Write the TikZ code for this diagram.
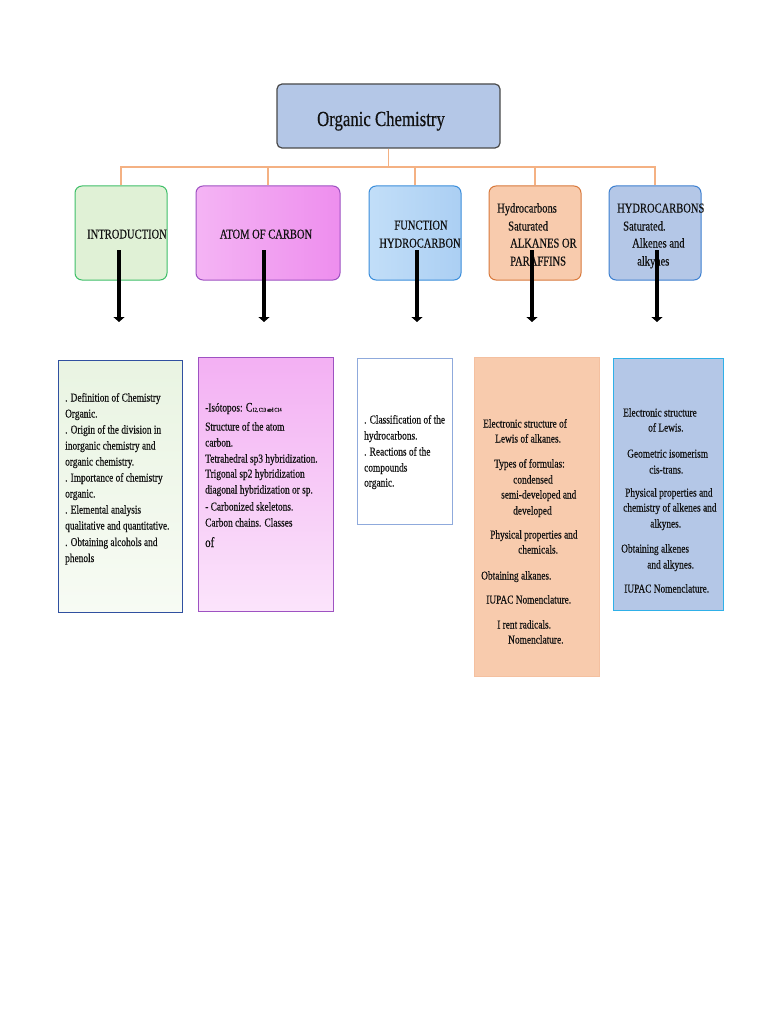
\documentclass[tikz,border=0pt]{standalone}
\usepackage{fontspec}
\newfontfamily\cond[FakeStretch=0.78,FakeBold=0.4]{Liberation Serif}
\usetikzlibrary{arrows.meta}
\definecolor{titlefill}{HTML}{B4C7E7}
\definecolor{titledraw}{HTML}{4A4A4A}
\definecolor{busc}{HTML}{F4B183}
\definecolor{gfill}{HTML}{E0F1D6}
\definecolor{gdraw}{HTML}{3FBF69}
\definecolor{pfillA}{HTML}{F4B4F4}
\definecolor{pfillB}{HTML}{EE8EEE}
\definecolor{pdraw}{HTML}{9E52C2}
\definecolor{bfillA}{HTML}{C2DEF8}
\definecolor{bfillB}{HTML}{ABCFF3}
\definecolor{bdraw}{HTML}{3B8EDB}
\definecolor{ofill}{HTML}{F8CBAD}
\definecolor{odraw}{HTML}{D8793C}
\definecolor{sfill}{HTML}{B4C7E7}
\definecolor{sdraw}{HTML}{3D80D0}
\definecolor{lgA}{HTML}{E9F4E2}
\definecolor{lgB}{HTML}{F7FBF4}
\definecolor{lgdraw}{HTML}{3050A0}
\definecolor{lpA}{HTML}{F3B0F3}
\definecolor{lpB}{HTML}{FBE4FB}
\definecolor{l3draw}{HTML}{8FAADC}
\definecolor{l4draw}{HTML}{F4C0A0}
\definecolor{l5draw}{HTML}{2FB0E8}
\definecolor{txtc}{HTML}{111111}
\tikzset{
  headbox/.style={draw, rounded corners=7pt, line width=1pt, minimum height=94pt, inner sep=0pt},
  lowbox/.style={draw, line width=0.8pt, inner sep=0pt},
  hdtxt/.style={inner sep=0pt, text=txtc, font=\cond\fontsize{13.5}{16}\selectfont},
  lowtxt/.style={inner sep=0pt, anchor=base west, text=txtc, font=\cond\fontsize{12}{14}\selectfont},
  busline/.style={draw=busc, line width=1.2pt},
  downarrow/.style={line width=4pt, black, -{Triangle[length=5pt,width=11pt]}}
}
\begin{document}
\begin{tikzpicture}[x=1pt,y=-1pt]
\path[use as bounding box] (0,0) rectangle (768,1024);
\fill[white] (0,0) rectangle (768,1024);

% title
\node[draw=titledraw, fill=titlefill, rounded corners=5pt, line width=1.2pt,
      minimum width=223pt, minimum height=64pt, inner sep=0pt] (title) at (388.5,116) {};
\node[inner sep=0pt, anchor=base, text=txtc, font=\cond\fontsize{21.5}{24}\selectfont] (titletxt) at (381,126) {Organic Chemistry};

% header boxes
\node[headbox, draw=gdraw, fill=gfill, minimum width=92pt] (h1) at (121,233) {};
\node[headbox, draw=pdraw, left color=pfillA, right color=pfillB, minimum width=144pt] (h2) at (268,233) {};
\node[headbox, draw=bdraw, left color=bfillA, right color=bfillB, minimum width=92pt] (h3) at (415,233) {};
\node[headbox, draw=odraw, fill=ofill, minimum width=92pt] (h4) at (535,233) {};
\node[headbox, draw=sdraw, fill=sfill, minimum width=92pt] (h5) at (655,233) {};

% tree connectors
\coordinate (bus) at (388.5,167);
\draw[busline] (title.south) -- (bus);
\draw[busline] (h1.north) |- (bus) -| (h5.north);
\draw[busline] (h2.north) -- (h2.north |- bus);
\draw[busline] (h3.north) -- (h3.north |- bus);
\draw[busline] (h4.north) -- (h4.north |- bus);

% header texts
\node[hdtxt, anchor=base] (t1) at (127,238.5) {INTRODUCTION};
\node[hdtxt, anchor=base] (t2) at (266,238.5) {ATOM OF CARBON};
\node[hdtxt, anchor=base] (t3a) at (421,229.5) {FUNCTION};
\node[hdtxt, anchor=base] (t3b) at (420,247.5) {HYDROCARBON};
\node[hdtxt, anchor=base west] (t4a) at (497,212.5) {Hydrocarbons};
\node[hdtxt, anchor=base west] (t4b) at (508,230.5) {Saturated};
\node[hdtxt, anchor=base west] (t4c) at (510,247.5) {ALKANES OR};
\node[hdtxt, anchor=base west] (t4d) at (510,265.5) {PARAFFINS};
\node[hdtxt, anchor=base west] (t5a) at (617,212.5) {HYDROCARBONS};
\node[hdtxt, anchor=base west] (t5b) at (623,230.5) {Saturated.};
\node[hdtxt, anchor=base west] (t5c) at (632,247.5) {Alkenes and};
\node[hdtxt, anchor=base west] (t5d) at (637,265.5) {alkynes};

% lower boxes
\node[lowbox, draw=lgdraw, top color=lgA, bottom color=lgB, minimum width=124pt, minimum height=252pt] (b1) at (120,486) {};
\node[lowbox, draw=pdraw, top color=lpA, bottom color=lpB, minimum width=135pt, minimum height=254pt] (b2) at (265.5,484) {};
\node[lowbox, draw=l3draw, fill=white, minimum width=95pt, minimum height=166pt] (b3) at (404.5,441) {};
\node[lowbox, draw=l4draw, fill=ofill, minimum width=125pt, minimum height=319pt] (b4) at (536.5,516.5) {};
\node[lowbox, draw=l5draw, fill=sfill, minimum width=110pt, minimum height=252pt] (b5) at (668,484) {};

% arrows
\coordinate (a1s) at (119,250); \coordinate (a1e) at (119,322);
\coordinate (a2s) at (264,250); \coordinate (a2e) at (264,322);
\coordinate (a3s) at (417,250); \coordinate (a3e) at (417,322);
\coordinate (a4s) at (532,250); \coordinate (a4e) at (532,322);
\coordinate (a5s) at (657,250); \coordinate (a5e) at (657,322);
\draw[downarrow] (a1s) -- (a1e);
\draw[downarrow] (a2s) -- (a2e);
\draw[downarrow] (a3s) -- (a3e);
\draw[downarrow] (a4s) -- (a4e);
\draw[downarrow] (a5s) -- (a5e);

% box 1 text
\foreach \s/\x/\y [count=\i] in {
  {. Definition of Chemistry}/65/401.5,
  {Organic.}/65/417.5,
  {. Origin of the division in}/65/433.5,
  {inorganic chemistry and}/65/449.5,
  {organic chemistry.}/65/465.5,
  {. Importance of chemistry}/65/481.5,
  {organic.}/65/497.5,
  {. Elemental analysis}/65/513.5,
  {qualitative and quantitative.}/65/529.5,
  {. Obtaining alcohols and}/65/546,
  {phenols}/65/562}
  \node[lowtxt] (p1-\i) at (\x,\y) {\s};

% box 2 text
\foreach \s/\x/\y [count=\i] in {
  {-Isótopos: {\fontsize{13}{14}\selectfont C}{\fontsize{5.5}{6}\selectfont 12, C13 and C14}}/205/411.5,
  {Structure of the atom}/205/430.5,
  {carbon.}/205/446.5,
  {Tetrahedral sp3 hybridization.}/205/462.5,
  {Trigonal sp2 hybridization}/205/477.5,
  {diagonal hybridization or sp.}/205/493.5,
  {- Carbonized skeletons.}/205/510.5,
  {Carbon chains. Classes}/205/526.5}
  \node[lowtxt] (p2-\i) at (\x,\y) {\s};
\node[lowtxt, font=\cond\fontsize{14}{16}\selectfont] (p2-of) at (205,547) {of};

% box 3 text
\foreach \s/\x/\y [count=\i] in {
  {. Classification of the}/364/423.5,
  {hydrocarbons.}/364/439.5,
  {. Reactions of the}/364/455.5,
  {compounds}/364/471.5,
  {organic.}/364/486.5}
  \node[lowtxt] (p3-\i) at (\x,\y) {\s};

% box 4 text
\foreach \s/\x/\y [count=\i] in {
  {Electronic structure of}/483/427.5,
  {Lewis of alkanes.}/495/442.5,
  {Types of formulas:}/494/467.5,
  {condensed}/513/483.5,
  {semi-developed and}/501/498.5,
  {developed}/513/514.5,
  {Physical properties and}/490/538.5,
  {chemicals.}/518/553.5,
  {Obtaining alkanes.}/481/579.5,
  {IUPAC Nomenclature.}/486/603.5,
  {I rent radicals.}/497/628.5,
  {Nomenclature.}/508/643.5}
  \node[lowtxt] (p4-\i) at (\x,\y) {\s};

% box 5 text
\foreach \s/\x/\y [count=\i] in {
  {Electronic structure}/623/416.5,
  {of Lewis.}/648/431.5,
  {Geometric isomerism}/627/457.5,
  {cis-trans.}/649/473.5,
  {Physical properties and}/625/496.5,
  {chemistry of alkenes and}/623/511.5,
  {alkynes.}/650/527.5,
  {Obtaining alkenes}/621/552.5,
  {and alkynes.}/647/568.5,
  {IUPAC Nomenclature.}/624/592.5}
  \node[lowtxt] (p5-\i) at (\x,\y) {\s};
\end{tikzpicture}
\end{document}
